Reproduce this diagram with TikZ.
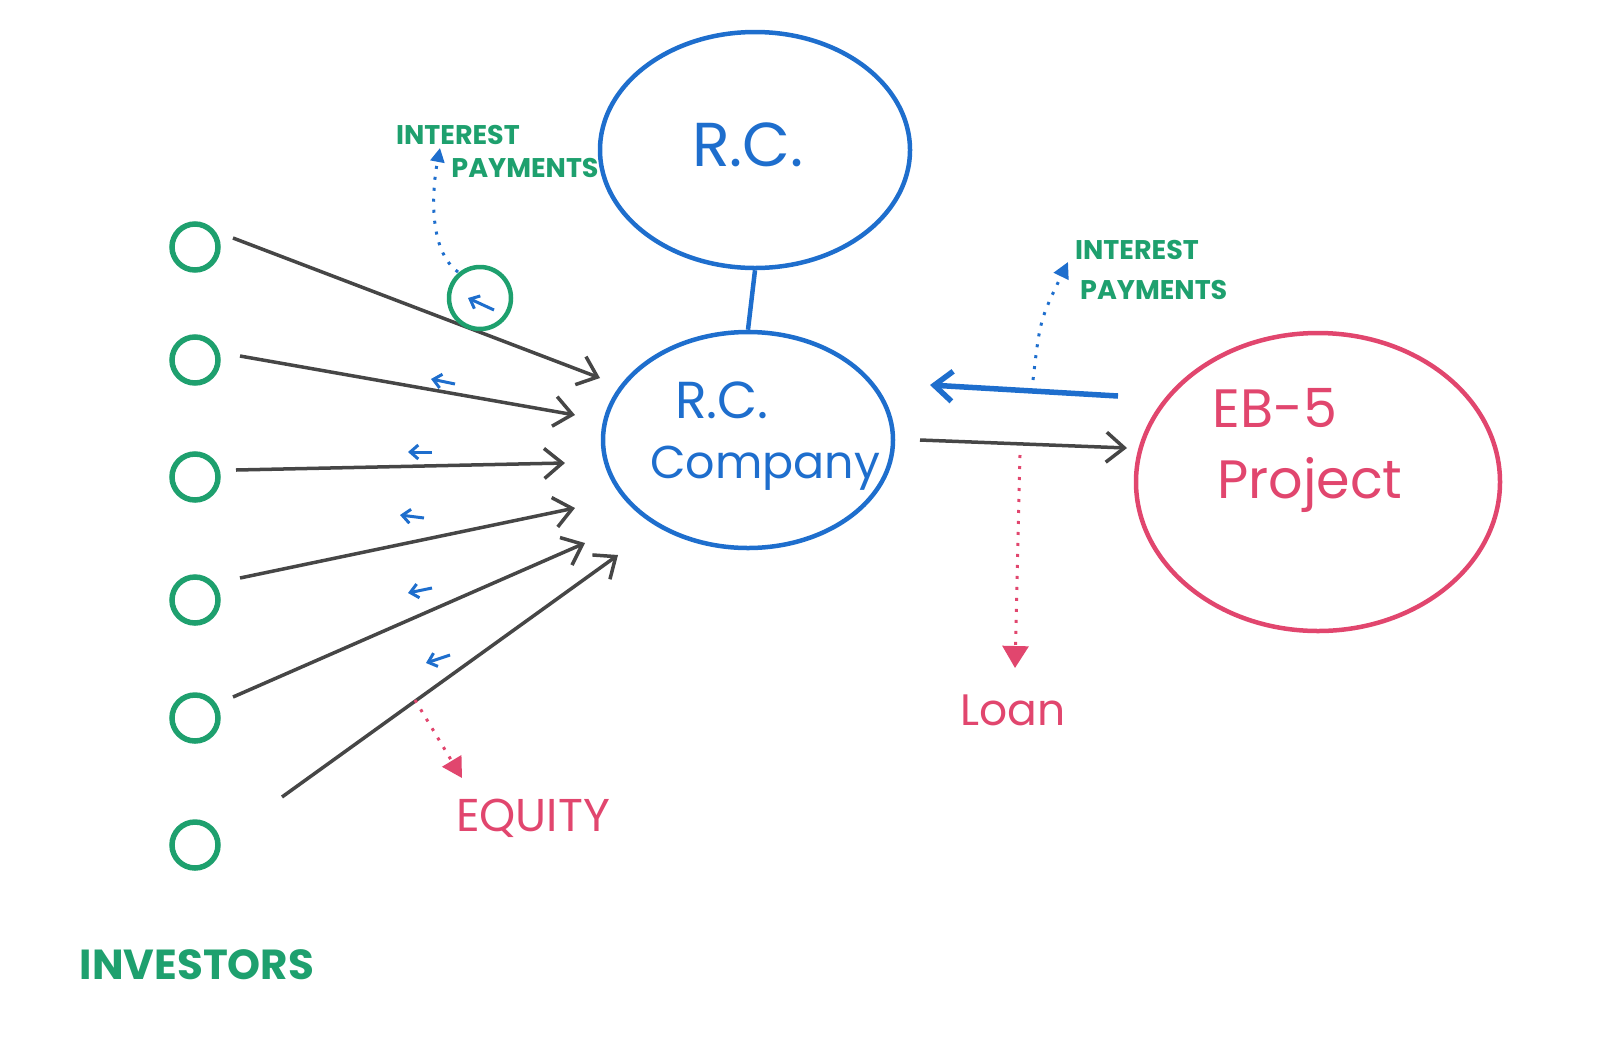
\documentclass[tikz,border=0pt]{standalone}
\usepackage{fontspec}
\setmainfont{Poppins}
\usetikzlibrary{arrows.meta,shapes.geometric}
\definecolor{cblue}{RGB}{30,110,205}
\definecolor{cgreen}{RGB}{30,160,110}
\definecolor{cpink}{RGB}{225,70,110}
\definecolor{cgray}{RGB}{70,70,70}
\tikzset{
  inv/.style={circle,draw=cgreen,line width=5.5pt,minimum size=46pt,inner sep=0},
  blob/.style={ellipse,line width=4.5pt,inner sep=0},
  flow/.style={cgray,line width=3.5pt,-{Straight Barb[length=18pt,width=30pt]}},
  small/.style={cblue,line width=3pt,-{Straight Barb[length=8pt,width=14pt]}},
  dot/.style={line width=3pt,dash pattern=on 3pt off 8pt},
  lbl/.style={font=\bfseries\fontsize{27}{28}\selectfont,text=cgreen,inner sep=0},
}
\begin{document}
\begin{tikzpicture}[x=1pt,y=-1pt]
\useasboundingbox (0,0) rectangle (1600,1045);
\node[blob,draw=cblue,minimum width=310pt,minimum height=236pt] (rc) at (755,150) {};
\node[blob,draw=cblue,minimum width=290pt,minimum height=216pt] (rcc) at (748,440) {};
\node[blob,draw=cpink,minimum width=364pt,minimum height=298pt] (eb) at (1318,482) {};
\node[text=cblue,font=\fontsize{62}{64}\selectfont] (t1) at (748,145) {R.C.};
\node[text=cblue,font=\fontsize{52}{54}\selectfont] (t2) at (722,400) {R.C.};
\node[text=cblue,font=\fontsize{46}{48}\selectfont] (t3) at (765,468) {Company};
\node[text=cpink,font=\fontsize{54}{56}\selectfont] (t4) at (1275,408) {EB-5};
\node[text=cpink,font=\fontsize{54}{56}\selectfont] (t5) at (1310,485) {Project};
\draw[cblue,line width=4.5pt] (rc.south) -- (rcc.north);
\foreach \i/\y in {1/247,2/360,3/477,4/600,5/718,6/845}{
  \node[inv] (i\i) at (195,\y) {};
}
\coordinate (a1s) at (233,238); \coordinate (a1e) at (600,378);
\coordinate (a2s) at (240,356); \coordinate (a2e) at (575,415);
\coordinate (a3s) at (236,470); \coordinate (a3e) at (565,463);
\coordinate (a4s) at (240,578); \coordinate (a4e) at (575,508);
\coordinate (a5s) at (233,697); \coordinate (a5e) at (585,543);
\coordinate (a6s) at (282,797); \coordinate (a6e) at (618,555);
\foreach \k in {1,...,6}{\draw[flow] (a\k s) -- (a\k e);}
\foreach \x/\y/\dx/\dy in {455/384/-24/-5, 432/452/-24/0, 424/518/-24/-3, 432/588/-24/5, 450/655/-24/8}{
  \draw[small] (\x,\y) -- ++(\dx,\dy);
}
\node[circle,draw=cgreen,line width=4.5pt,minimum size=62pt,inner sep=0] (sc) at (480,298) {};
\draw[small] (494,310) -- (468,298);
\coordinate (ip1) at (440,148);
\draw[cblue,dot,-{Triangle[length=14pt,width=14pt]}] (458,272) .. controls (428,250) and (432,190) .. (ip1);
\node[lbl] (l1) at (458,135) {INTEREST};
\node[lbl] (l2) at (525,168) {PAYMENTS};
\coordinate (b1) at (1118,396); \coordinate (b2) at (930,385);
\draw[cblue,line width=5.5pt,-{Straight Barb[length=18pt,width=30pt]}] (b1) -- (b2);
\coordinate (g1) at (920,440); \coordinate (g2) at (1127,448);
\draw[flow] (g1) -- (g2);
\coordinate (d1) at (1033,380); \coordinate (d2) at (1068,262);
\draw[cblue,dot,-{Triangle[length=16pt,width=16pt]}] (d1) .. controls (1040,320) .. (d2);
\node[lbl,anchor=west] (l3) at (1075,250) {INTEREST};
\node[lbl,anchor=west] (l4) at (1080,290) {PAYMENTS};
\coordinate (p1) at (1020,455); \coordinate (p2) at (1015,668);
\draw[cpink,dot,-{Triangle[length=22pt,width=26pt]}] (p1) -- (p2);
\node[text=cpink,font=\fontsize{44}{46}\selectfont] (loan) at (1013,710) {Loan};
\coordinate (e1) at (415,700); \coordinate (e2) at (462,778);
\draw[cpink,dot,-{Triangle[length=20pt,width=22pt]}] (e1) -- (e2);
\node[text=cpink,font=\fontsize{46}{48}\selectfont] (eq) at (533,818) {EQUITY};
\node[lbl,font=\bfseries\fontsize{42}{44}\selectfont] (inv) at (197,965) {INVESTORS};
\end{tikzpicture}
\end{document}
